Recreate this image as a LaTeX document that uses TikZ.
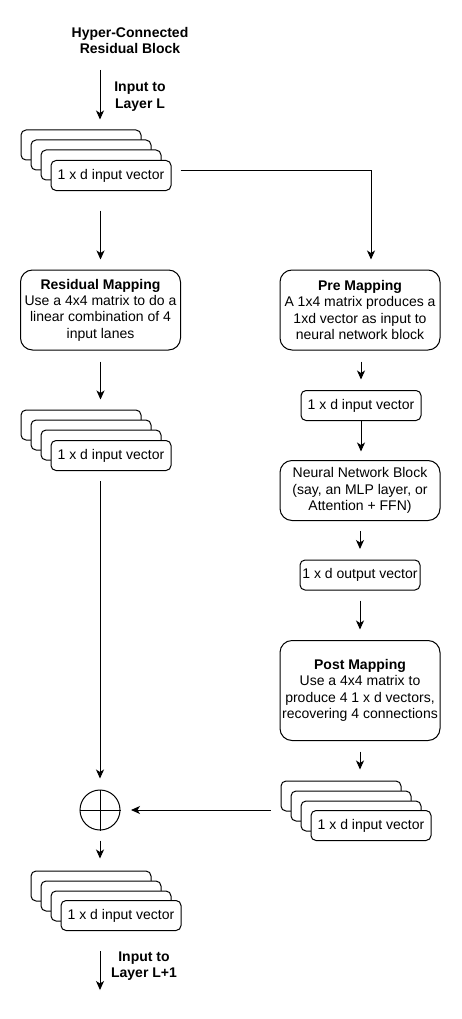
\documentclass[tikz,border=0pt]{standalone}
\usepackage{fontspec}
\setmainfont{Liberation Sans}
\usetikzlibrary{arrows.meta,calc}
\tikzset{
  basefont/.style={font=\fontsize{14}{16.4}\selectfont},
  vec/.style={draw, fill=white, rounded corners=5pt, minimum width=120pt, minimum height=30pt, inner sep=0pt, basefont},
  bigbox/.style={draw, fill=white, rounded corners=12pt, minimum width=160pt, align=center, inner sep=0pt, basefont},
  lab/.style={align=center, inner sep=0pt, font=\fontsize{14}{16.4}\selectfont\bfseries},
  arr/.style={-{Stealth[length=9pt,width=8pt,inset=2.5pt]}},
}
\begin{document}
\begin{tikzpicture}[x=1pt,y=-1pt,line width=1pt]
\useasboundingbox (0,0) rectangle (461,1019);

% title and top label
\node[lab] (title) at (130,40.5) {Hyper-Connected\\Residual Block};
\node[lab] (inL) at (140,96.5) {Input to\\Layer L};
\coordinate (inA) at (100,70);

% top stack
\node[vec] (s1a) at (81,145) {};
\node[vec] (s1b) at (91,155) {};
\node[vec] (s1c) at (101,165) {};
\node[vec] (s1d) at (111,175.5) {1 x d input vector};

% residual mapping
\node[bigbox, minimum height=80pt] (res) at (100.5,310) {\textbf{Residual Mapping}\\Use a 4x4 matrix to do a\\linear combination of 4\\input lanes};

% pre mapping
\node[bigbox, minimum height=80pt] (pre) at (360,310) {\textbf{Pre Mapping}\\A 1x4 matrix produces a\\1xd vector as input to\\neural network block};

% residual stack
\node[vec] (s2a) at (81,425) {};
\node[vec] (s2b) at (91,435) {};
\node[vec] (s2c) at (101,445) {};
\node[vec] (s2d) at (111,455.5) {1 x d input vector};

% right column
\node[vec] (v1) at (361,405.5) {1 x d input vector};
\node[bigbox, minimum height=60pt] (nn) at (360,490.5) {Neural Network Block\\(say, an MLP layer, or\\Attention + FFN)};
\node[vec] (out) at (360,575) {1 x d output vector};
\node[bigbox, minimum height=100pt] (post) at (360,690.5) {\textbf{Post Mapping}\\Use a 4x4 matrix to\\produce 4 1 x d vectors,\\recovering 4 connections};

% post stack
\node[vec] (s3a) at (341,796) {};
\node[vec] (s3b) at (351,806) {};
\node[vec] (s3c) at (361,816) {};
\node[vec] (s3d) at (371,825.5) {1 x d input vector};

% oplus
\node[circle, draw, minimum size=40pt, inner sep=0pt] (op) at (100,810) {};
\draw (op.north) -- (op.south);
\draw (op.west) -- (op.east);

% bottom stack
\node[vec] (s4a) at (91,886) {};
\node[vec] (s4b) at (101,896) {};
\node[vec] (s4c) at (111,906) {};
\node[vec] (s4d) at (121,915.5) {1 x d input vector};

\node[lab] (inL1) at (144,966) {Input to\\Layer L+1};
\coordinate (outA) at (100,990);

% connectors
\draw[arr] (inA) -- ([yshift=10pt]s1a.north -| inA);
\draw[arr, shorten <=19.5pt, shorten >=10pt] (s1d.south -| res.north) -- (res.north);
\draw[arr] ([xshift=9pt,yshift=5pt]s1d.east) -| ([xshift=11pt,yshift=10pt]pre.north);
\draw[arr, shorten <=11pt, shorten >=10pt] (res.south) -- (res.south |- s2a.north);
\draw[arr, shorten <=11pt, shorten >=10.5pt] ([xshift=1pt]pre.south) -- (v1.north);
\draw[arr, shorten >=8.5pt] (v1.south) -- (v1.south |- nn.north);
\draw[arr, shorten <=10pt, shorten >=10.5pt] (nn.south) -- (out.north);
\draw[arr, shorten <=10pt, shorten >=10.5pt] (out.south) -- (post.north);
\draw[arr, shorten <=10.5pt, shorten >=11pt] (post.south) -- (post.south |- s3a.north);
\draw[arr] ([xshift=-10pt,yshift=-14pt]s3a.west) -- ([xshift=10.5pt]op.east);
\draw[arr, shorten <=10pt, shorten >=11pt] (s2d.south -| op.north) -- (op.north);
\draw[arr, shorten <=10pt, shorten >=12pt] (op.south) -- (op.south |- s4a.north);
\draw[arr, shorten <=20pt] (s4d.south -| outA) -- (outA);
\end{tikzpicture}
\end{document}
